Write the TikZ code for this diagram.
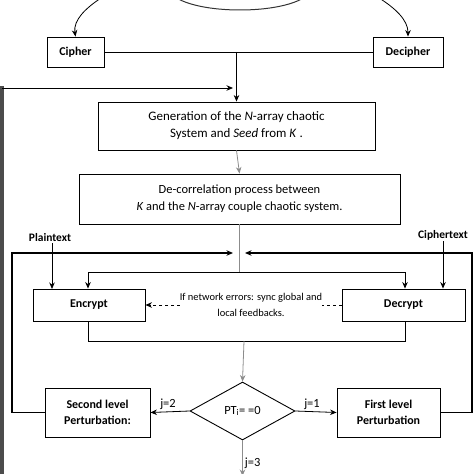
\documentclass[tikz,border=0pt]{standalone}
\usepackage{fontspec}
\setmainfont{Carlito}
\usetikzlibrary{arrows.meta,shapes.geometric}
\begin{document}
\begin{tikzpicture}[x=1bp,y=-1bp,
  font=\fontsize{11}{12.5}\selectfont,
  box/.style={draw,line width=0.9bp,inner sep=1bp,align=center},
  bbox/.style={box,font=\fontsize{12}{13}\selectfont\bfseries},
  ln/.style={line width=0.8bp},
  gln/.style={line width=0.8bp,draw=black!45},
  arr/.style={-{Stealth[length=6.5bp,width=5.5bp]}},
  lab/.style={font=\fontsize{11.5}{13}\selectfont\bfseries,inner sep=0}]
\useasboundingbox (0,0) rectangle (474,474);
% top ellipse (cut off)
\draw[line width=1bp,black!80] (240,-11) ellipse [x radius=70, y radius=21];
\coordinate (tl) at (101,-2);
\coordinate (tr) at (379,-2);
% boxes
\node[bbox,minimum width=57bp,minimum height=30bp] (cipher) at (75.5,52) {Cipher};
\node[bbox,minimum width=70bp,minimum height=30bp] (decipher) at (408,52) {Decipher};
\node[box,minimum width=277bp,minimum height=48bp,font=\fontsize{13}{17}\selectfont] (gen) at (236.5,126)
  {Generation of the \textit{N}-array chaotic\\System and \textit{Seed} from \textit{K} .};
\node[box,minimum width=321bp,minimum height=50bp,font=\fontsize{12.5}{17}\selectfont] (dec) at (239.5,199)
  {De-correlation process between\\\textit{K} and the \textit{N}-array couple chaotic system.};
\node[bbox,minimum width=112bp,minimum height=32bp] (enc) at (89,305) {Encrypt};
\node[bbox,minimum width=123bp,minimum height=32bp] (decr) at (403.5,305) {Decrypt};
\node[bbox,minimum width=105bp,minimum height=49bp,font=\fontsize{12}{16}\selectfont\bfseries] (second) at (97.5,412.5) {Second level\\Perturbation:};
\node[bbox,minimum width=103bp,minimum height=49bp,font=\fontsize{12}{16}\selectfont\bfseries] (first) at (388.5,412.5) {First level\\Perturbation};
\node[draw,diamond,line width=0.9bp,minimum width=105bp,minimum height=58bp,inner sep=0,aspect=1.8,font=\fontsize{12.5}{14}\selectfont] (dia) at (242.5,411) {PT\textsubscript{i}= =0};
\node[lab] (pt) at (50,238) {Plaintext};
\node[lab] (ct) at (443,235) {Ciphertext};
% top curves
\draw[ln,arr] (tl) .. controls (86,8) and (73,20) .. (cipher.north);
\draw[ln,arr] (tr) .. controls (395,8) and (408,20) .. (decipher.north);
\draw[ln] (cipher.east) -- (decipher.west);
\coordinate (j1) at (236.5,52);
\draw[ln,arr] (j1) -- (gen.north);
% left feedback from bottom edge
\coordinate (lb) at (2,474);
\coordinate (lt) at (2,88);
\coordinate (la) at (233,88);
\draw[line width=3bp,black!70] (lb) -- (2,86.5);
\draw[ln,arr] (lt) -- (la);
\draw[gln,arr] (gen.south) -- (dec.north);
% center line to inner distribution
\coordinate (c1) at (239.5,272);
\draw[gln] (dec.south) -- (c1);
\coordinate (ie) at (88,272);
\coordinate (id) at (405,272);
\draw[ln,arr] (c1) -- (ie) -- (ie |- enc.north);
\draw[ln,arr] (c1) -- (id) -- (id |- decr.north);
% plaintext / ciphertext
\draw[ln,arr] (pt.south -| 52,0) ++(0,1) -- (52,289);
\draw[ln,arr] (ct.south) ++(0,1) -- (ct.south |- decr.north);
% dashed
\draw[ln,dashed,arr] (decr.west) -- (enc.east);
\node[fill=white,inner sep=0,align=center,font=\fontsize{10.5}{16}\selectfont] (note) at (251,305)
  {If network errors: sync global and\\local feedbacks.};
% bottom collection
\coordinate (be) at (88,341);
\coordinate (bd) at (405,341);
\coordinate (bm) at (244,341);
\draw[ln] (be |- enc.south) -- (be) -- (bd) -- (bd |- decr.south);
\draw[gln,arr] (bm) -- (dia.north);
% diamond outputs
\draw[ln,arr] (dia.west) -- node[above,inner sep=2bp,xshift=-2bp,font=\fontsize{12.5}{14}\selectfont] (l2) {j=2} (second.east);
\draw[ln,arr] (dia.east) -- node[above,inner sep=2bp,xshift=-4bp,font=\fontsize{12.5}{14}\selectfont] (l1) {j=1} (first.west);
\coordinate (bot) at (dia.south |- 0,476);
\draw[gln,arr] (dia.south) -- node[right,inner sep=2bp,yshift=-5bp,font=\fontsize{12.5}{14}\selectfont] (l3) {j=3} (bot);
% outer loops
\coordinate (ol) at (12,253);
\coordinate (or) at (472,253);
\draw[line width=1.2bp,arr] (second.west) -| (ol) -- (233,253);
\draw[line width=1.6bp,arr] (first.east) -| (or) -- (245,253);
\end{tikzpicture}
\end{document}
